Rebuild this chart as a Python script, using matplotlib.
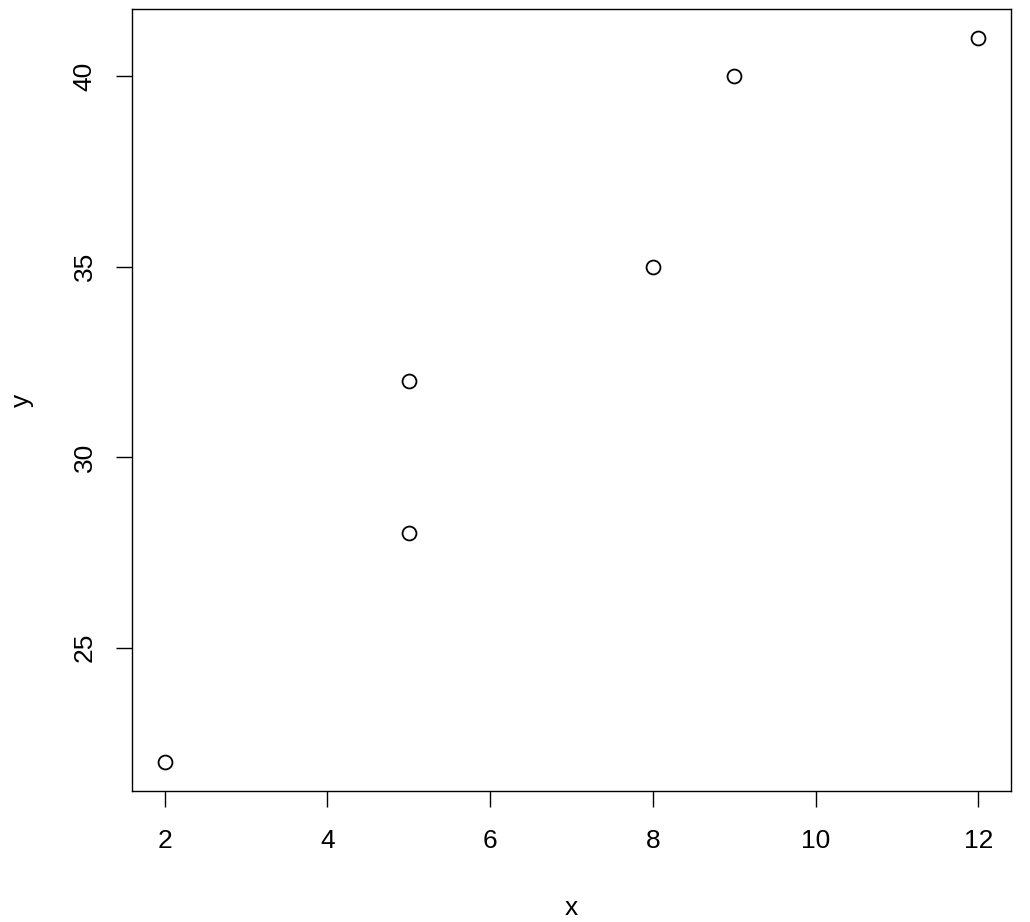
import matplotlib
matplotlib.use("Agg")
import matplotlib.pyplot as plt

plt.rcParams['font.family'] = ['Liberation Sans', 'DejaVu Sans']

x = [2, 5, 5, 8, 9, 12]
y = [22, 28, 32, 35, 40, 41]
xticks = [2, 4, 6, 8, 10, 12]
yticks = [25, 30, 35, 40]

fig = plt.figure(figsize=(10.30, 9.22), dpi=100)
ax = fig.add_axes([132 / 1030, 131 / 922, 879 / 1030, 782 / 922])

ax.plot(x, y, linestyle='none', marker='o', markersize=10,
        markerfacecolor='none', markeredgecolor='black', markeredgewidth=1.3)

ax.set_xlim(1.6, 12.4)
ax.set_ylim(21.24, 41.76)
ax.set_xticks(xticks)
ax.set_yticks(yticks)
ax.set_xticklabels([str(v) for v in xticks])
ax.set_yticklabels([str(v) for v in yticks], rotation=90, va='center')

ax.tick_params(axis='both', direction='out', length=11.5, width=1,
               labelsize=19, pad=14)
ax.tick_params(axis='x', pad=15.5)
for s in ax.spines.values():
    s.set_linewidth(1)

ax.set_xlabel('x', fontsize=19, labelpad=31)
ax.set_ylabel('y', fontsize=19, labelpad=28)

fig.savefig('out.png', dpi=100)
